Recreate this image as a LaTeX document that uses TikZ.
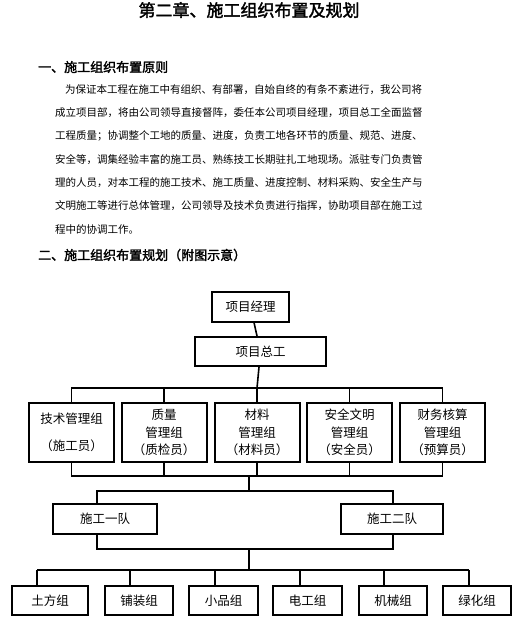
\documentclass[tikz,border=0pt]{standalone}
\usepackage{fontspec}
\usepackage{tikz}
\usetikzlibrary{positioning, calc}
\newfontfamily\cjk[AutoFakeBold=2]{Noto Sans CJK SC}
\XeTeXlinebreaklocale "zh"
\XeTeXlinebreakskip=0pt plus 3pt
\tikzset{
  orgbox/.style = {rectangle, draw=black, line width=2pt, minimum height=30pt, inner sep=0pt, align=center, font=\cjk\fontsize{12.5}{17.5}\selectfont},
  groupbox/.style = {orgbox, minimum width=85pt, minimum height=59pt},
  workbox/.style = {orgbox, minimum width=68pt, minimum height=29pt},
  link/.style = {line width=1.6pt},
  bodyline/.style = {anchor=west, inner sep=0pt, font=\cjk\fontsize{10.5}{12}\selectfont},
  heading/.style = {anchor=west, inner sep=0pt, font=\cjk\bfseries\fontsize{13}{15}\selectfont}
}
\newcommand{\fullline}[2]{\makebox[#1][s]{#2}}

\begin{document}
\begin{tikzpicture}[x=1pt, y=-1pt]
    \useasboundingbox (0,0) rectangle (519,627);

    % title and text
    \node (title) [inner sep=0pt, font=\cjk\bfseries\fontsize{17}{19}\selectfont] at (249,10) {第二章、施工组织布置及规划};
    \node (h1) [heading] at (38,67) {一、施工组织布置原则};
    \node (l1) [bodyline] at (65,90) {\fullline{378pt}{为保证本工程在施工中有组织、有部署，自始自终的有条不紊进行，我公司将}};
    \node (l2) [bodyline] at (55,113) {\fullline{388pt}{成立项目部，将由公司领导直接督阵，委任本公司项目经理，项目总工全面监督}};
    \node (l3) [bodyline] at (55,136) {\fullline{388pt}{工程质量；协调整个工地的质量、进度，负责工地各环节的质量、规范、进度、}};
    \node (l4) [bodyline] at (55,160) {\fullline{388pt}{安全等，调集经验丰富的施工员、熟练技工长期驻扎工地现场。派驻专门负责管}};
    \node (l5) [bodyline] at (55,183) {\fullline{388pt}{理的人员，对本工程的施工技术、施工质量、进度控制、材料采购、安全生产与}};
    \node (l6) [bodyline] at (55,206) {\fullline{388pt}{文明施工等进行总体管理，公司领导及技术负责进行指挥，协助项目部在施工过}};
    \node (l7) [bodyline] at (55,229) {\fullline{94pt}{程中的协调工作。}};
    \node (h2) [heading] at (38,255) {二、施工组织布置规划（附图示意）};

    % chart
    \node (pm) [orgbox, minimum width=77pt] at (250.5,307) {项目经理};
    \node (chief) [orgbox, minimum width=131pt, minimum height=29pt] at (260.5,351.5) {项目总工};

    \node (tech) [groupbox] at (71.5,432.5) {技术管理组\\[10pt]（施工员）};
    \node (qual) [groupbox] at (164,432.5) {质量\\管理组\\（质检员）};
    \node (mat) [groupbox] at (257,432.5) {材料\\管理组\\（材料员）};
    \node (safe) [groupbox] at (349.5,432.5) {安全文明\\管理组\\（安全员）};
    \node (fin) [groupbox] at (442.5,432.5) {财务核算\\管理组\\（预算员）};

    \node (team1) [orgbox, minimum width=104pt] at (105,519) {施工一队};
    \node (team2) [orgbox, minimum width=102pt] at (392,519) {施工二队};

    \node (earth) [workbox, minimum width=76pt] at (50,600.5) {土方组};
    \node (pave) [workbox] at (139,600.5) {铺装组};
    \node (small) [workbox, minimum width=69pt] at (223.5,600.5) {小品组};
    \node (elec) [workbox, minimum width=69pt] at (307.5,600.5) {电工组};
    \node (mech) [workbox] at (393,600.5) {机械组};
    \node (green) [workbox] at (477,600.5) {绿化组};

    \coordinate (topbus) at (257,388);
    \coordinate (midbus) at (249,476);
    \coordinate (teambus) at (249,491);
    \coordinate (t1) at (97,491);
    \coordinate (t2) at (393,491);
    \coordinate (s1) at (97,549);
    \coordinate (s2) at (393,549);
    \coordinate (subbus) at (249,549);
    \coordinate (workbus) at (249,570);

    \draw [link] (pm) -- (chief);
    \draw [link] (chief) -- (topbus);
    \draw [link] (tech.north) |- (topbus) -| (fin.north);
    \draw [link] (tech.south) |- (midbus) -| (fin.south);
    \foreach \g in {qual, mat, safe} {
        \draw [link] (\g.north) -- (\g.north |- topbus);
        \draw [link] (\g.south) -- (\g.south |- midbus);
    }
    \draw [link] (midbus) -- (teambus);
    \draw [link] (t1 |- team1.north) -- (t1) -- (t2) -- (t2 |- team2.north);
    \draw [link] (s1 |- team1.south) -- (s1) -- (s2) -- (s2 |- team2.south);
    \draw [link] (subbus) -- (workbus);
    \draw [link] (37,570) -- (469,570);
    \foreach \w/\x in {earth/37, pave/130, small/215, elec/300, mech/384, green/469} {
        \draw [link] (\x,570) -- (\x,570 |- \w.north);
    }
\end{tikzpicture}
\end{document}
